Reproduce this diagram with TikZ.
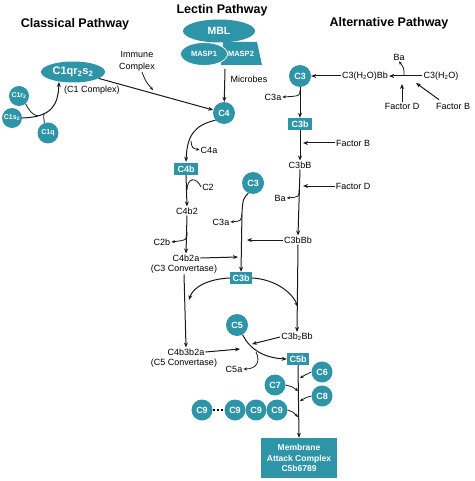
\documentclass[tikz,border=0pt]{standalone}
\usepackage{fontspec}
\setmainfont{Liberation Sans}
\usetikzlibrary{arrows.meta,shapes.geometric}
\definecolor{teal1}{HTML}{2E95A8}
\tikzset{
  circ/.style={circle,fill=teal1,text=white,font=\bfseries\fontsize{9}{10}\selectfont,inner sep=0pt,minimum size=22pt},
  scirc/.style={circle,fill=teal1,text=white,font=\bfseries\fontsize{7}{8}\selectfont,inner sep=0pt,minimum size=20pt},
  tbox/.style={rectangle,fill=teal1,text=white,font=\bfseries\fontsize{9}{10}\selectfont,inner sep=1pt,minimum width=24pt,minimum height=12pt},
  lbl/.style={font=\fontsize{9}{10}\selectfont,inner sep=1pt},
  ttl/.style={font=\bfseries\fontsize{12.5}{14}\selectfont,inner sep=0pt},
  arr/.style={draw=black!90,line width=1pt,-{Stealth[length=5pt,width=4pt]}},
  ln/.style={draw=black!90,line width=1pt},
  hook/.style={draw=black!90,line width=0.8pt,-{Stealth[length=3.5pt,width=3pt]}},
}
\begin{document}
\begin{tikzpicture}[x=1pt,y=-1pt]
\useasboundingbox (0,0) rectangle (474,481);
% titles
\node[ttl] (tClass) at (75,24) {Classical Pathway};
\node[ttl] (tLec) at (222,10) {Lectin Pathway};
\node[ttl] (tAlt) at (389,23) {Alternative Pathway};
% lectin complex
\fill[teal1] (223,42) -- (257,42) -- (262,65) -- (221,65) -- cycle;
\node[lbl,text=white,font=\bfseries\fontsize{7.5}{8}\selectfont] (masp2) at (241,54) {MASP2};
\node[ellipse,fill=teal1,draw=white,line width=0.8pt,minimum width=47pt,minimum height=23pt,inner sep=0pt,text=white,font=\bfseries\fontsize{7.5}{8}\selectfont] (masp1) at (204,54) {MASP1};
\node[ellipse,fill=teal1,minimum width=72pt,minimum height=23pt,inner sep=0pt,text=white,font=\bfseries\fontsize{10.5}{11}\selectfont] (mbl) at (219,31) {MBL};
\node[lbl] (microbes) at (249,79) {Microbes};
\coordinate (mtop) at (225,69);
\node[circ] (c4) at (224,113) {C4};
\draw[arr] (mtop) -- (c4);
% classical C1
\node[ellipse,fill=teal1,minimum width=64pt,minimum height=21pt,inner sep=0pt,text=white,font=\bfseries\fontsize{11}{12}\selectfont] (c1) at (73,72) {C1qr\textsubscript{2}s\textsubscript{2}};
\node[lbl] (c1cx) at (92,90) {(C1 Complex)};
\node[lbl,align=center,font=\fontsize{9}{12}\selectfont] (immune) at (137,61) {Immune\\Complex};
\node[scirc] (c1r) at (19,96) {C1r\textsubscript{2}};
\node[scirc] (c1s) at (12,118) {C1s\textsubscript{2}};
\node[scirc,minimum size=21pt] (c1q) at (48,133) {C1q};
\coordinate (c1tip) at (59,82);
\draw[arr] (c1s.east) .. controls (52,117) and (58,105) .. (c1tip);
\draw[ln,line width=0.8pt] (c1r.-50) .. controls (29,110) and (32,115) .. (38,116);
\draw[ln,line width=0.8pt] (c1q.110) .. controls (44,118) and (43,115) .. (44,113);
\draw[arr] (c1.-14) -- (c4);
\coordinate (imj) at (153,90);
\draw[hook] (immune.south) ++(5,0) .. controls (146,82) .. (imj);
% C4 -> C4b
\node[lbl] (c4a) at (209,150) {C4a};
\node[tbox] (c4b) at (186,169) {C4b};
\draw[arr,shorten >=1pt] (c4.-140) .. controls (195,125) and (187,135) .. (c4b.north);
\coordinate (c4aj) at (191,141);
\draw[hook] (c4aj) .. controls (192,148) .. (c4a.west);
\node[lbl] (c2) at (208,187) {C2};
\node[lbl] (c4b2) at (187,211) {C4b2};
\draw[arr] (c4b.south) -- (c4b2.north);
\draw[ln,line width=0.8pt] (c2.west) .. controls (196,176) and (187,178) .. (187,190);
\node[lbl] (c2b) at (162,242) {C2b};
\node[lbl] (c4b2a) at (186,258) {C4b2a};
\node[lbl] (c3conv) at (184,269) {(C3 Convertase)};
\draw[arr] (c4b2.south) -- (c4b2a.north);
\coordinate (c2bj) at (187,232);
\draw[hook] (c2bj) .. controls (187,240) .. (c2b.east);
% middle C3
\node[circ] (c3m) at (253,183) {C3};
\node[lbl] (c3am) at (221,222) {C3a};
\node[tbox,minimum width=22pt] (c3bm) at (241,278) {C3b};
\draw[arr] (c3m.-115) .. controls (243,199) .. (242,212) -- (c3bm.north);
\coordinate (c3amj) at (242,214);
\draw[hook] (c3amj) .. controls (241,221) .. (c3am.east);
\coordinate (c3mj1) at (238,257);
\draw[arr] (c4b2a.east) -- (c3mj1);
% C5 convertase
\node[lbl] (c4b3b2a) at (186,352) {C4b3b2a};
\node[lbl] (c5conv) at (184,363) {(C5 Convertase)};
\draw[arr] (c3conv.south) -- (c4b3b2a.north);
\coordinate (c3blj) at (189,300);
\draw[arr] (c3bm.west) .. controls (208,279) and (193,287) .. (c3blj);
\coordinate (c3brj) at (298,307);
\draw[arr] (c3bm.east) .. controls (272,279) and (291,290) .. (c3brj);
% alternative
\node[circ] (c3alt) at (300,76) {C3};
\node[lbl] (c3h2obb) at (365,76) {C3(H\textsubscript{2}O)Bb};
\node[lbl] (c3h2o) at (441,76) {C3(H\textsubscript{2}O)};
\coordinate (jA) at (405,76);
\draw[ln] (c3h2o.west) -- (jA);
\draw[arr] (jA) -- (c3h2obb.east);
\draw[arr] (c3h2obb.west) -- (c3alt);
\node[lbl] (baA) at (399,57) {Ba};
\draw[hook] (404,76) .. controls (404,68) .. (baA.south);
\node[lbl] (fdA) at (402,106) {Factor D};
\coordinate (fdAt) at (402,84);
\draw[arr] (fdA.north) -- (fdAt);
\node[lbl] (fbA) at (453,106) {Factor B};
\coordinate (fbAt) at (416,83);
\draw[arr] (fbA.north) ++(-14,-2) -- (fbAt);
\node[lbl] (c3aA) at (273,97) {C3a};
\node[tbox] (c3bA) at (300,124) {C3b};
\draw[arr] (c3alt.south) -- (c3bA.north);
\coordinate (c3aAj) at (300,90);
\draw[hook] (c3aAj) .. controls (300,96) .. (c3aA.east);
\node[lbl] (c3bB) at (300,165) {C3bB};
\draw[arr] (c3bA.south) -- (c3bB.north);
\node[lbl] (fbB) at (353,143) {Factor B};
\coordinate (fbBt) at (303,143);
\draw[arr] (fbB.west) -- (fbBt);
\node[lbl] (c3bBb) at (298,240) {C3bBb};
\draw[arr] (c3bB.south) -- (c3bBb.north);
\node[lbl] (fdB) at (353,186) {Factor D};
\coordinate (fdBt) at (303,186);
\draw[arr] (fdB.west) -- (fdBt);
\node[lbl] (baB) at (280,198) {Ba};
\coordinate (baBj) at (299,190);
\draw[hook] (baBj) .. controls (299,197) .. (baB.east);
\coordinate (c3bBbt) at (247,240);
\draw[arr] (c3bBb.west) -- (c3bBbt);
\node[lbl] (c3b2Bb) at (297,337) {C3b\textsubscript{2}Bb};
\draw[arr] (c3bBb.south) -- (c3b2Bb.north);
% C5
\node[circ] (c5) at (237,325) {C5};
\coordinate (c5j) at (252,344);
\draw[arr] (c3b2Bb.west) -- (c5j);
\coordinate (c5j2) at (240,349);
\draw[arr] (c4b3b2a.east) -- (c5j2);
\node[tbox,minimum width=22pt] (c5b) at (298,359) {C5b};
\draw[arr] (c5.-60) .. controls (250,350) and (265,358) .. (c5b.west);
\node[lbl] (c5a) at (234,369) {C5a};
\coordinate (c5aj) at (256,352);
\draw[hook] (c5aj) .. controls (261,362) and (256,369) .. (c5a.east);
\node[tbox,align=center,font=\bfseries\fontsize{8.5}{10.5}\selectfont,minimum width=76pt,minimum height=40pt] (mac) at (299,458) {Membrane\\Attack Complex\\C5b6789};
\draw[arr] (c5b.south) -- (mac.north);
\node[circ,minimum size=21pt] (c6) at (322,372) {C6};
\node[circ,minimum size=21pt] (c7) at (275,385) {C7};
\node[circ,minimum size=21pt] (c8) at (322,396) {C8};
\node[circ,minimum size=21pt] (c9a) at (202,410) {C9};
\node[circ,minimum size=21pt] (c9b) at (235,410) {C9};
\node[circ,minimum size=21pt] (c9c) at (256,410) {C9};
\node[circ,minimum size=21pt] (c9d) at (277,410) {C9};
\draw[line width=2pt,dash pattern=on 2.5pt off 1.5pt] (c9a.east) -- (c9b.west);
\coordinate (c6t) at (300,378);
\coordinate (c7t) at (298,391);
\coordinate (c8t) at (300,401);
\coordinate (c9t) at (298,417);
\draw[hook] (c6.west) .. controls (305,375) .. (c6t);
\draw[hook] (c7.east) .. controls (293,387) .. (c7t);
\draw[hook] (c8.west) .. controls (305,398) .. (c8t);
\draw[hook] (c9d.east) .. controls (293,412) .. (c9t);
\end{tikzpicture}
\end{document}
